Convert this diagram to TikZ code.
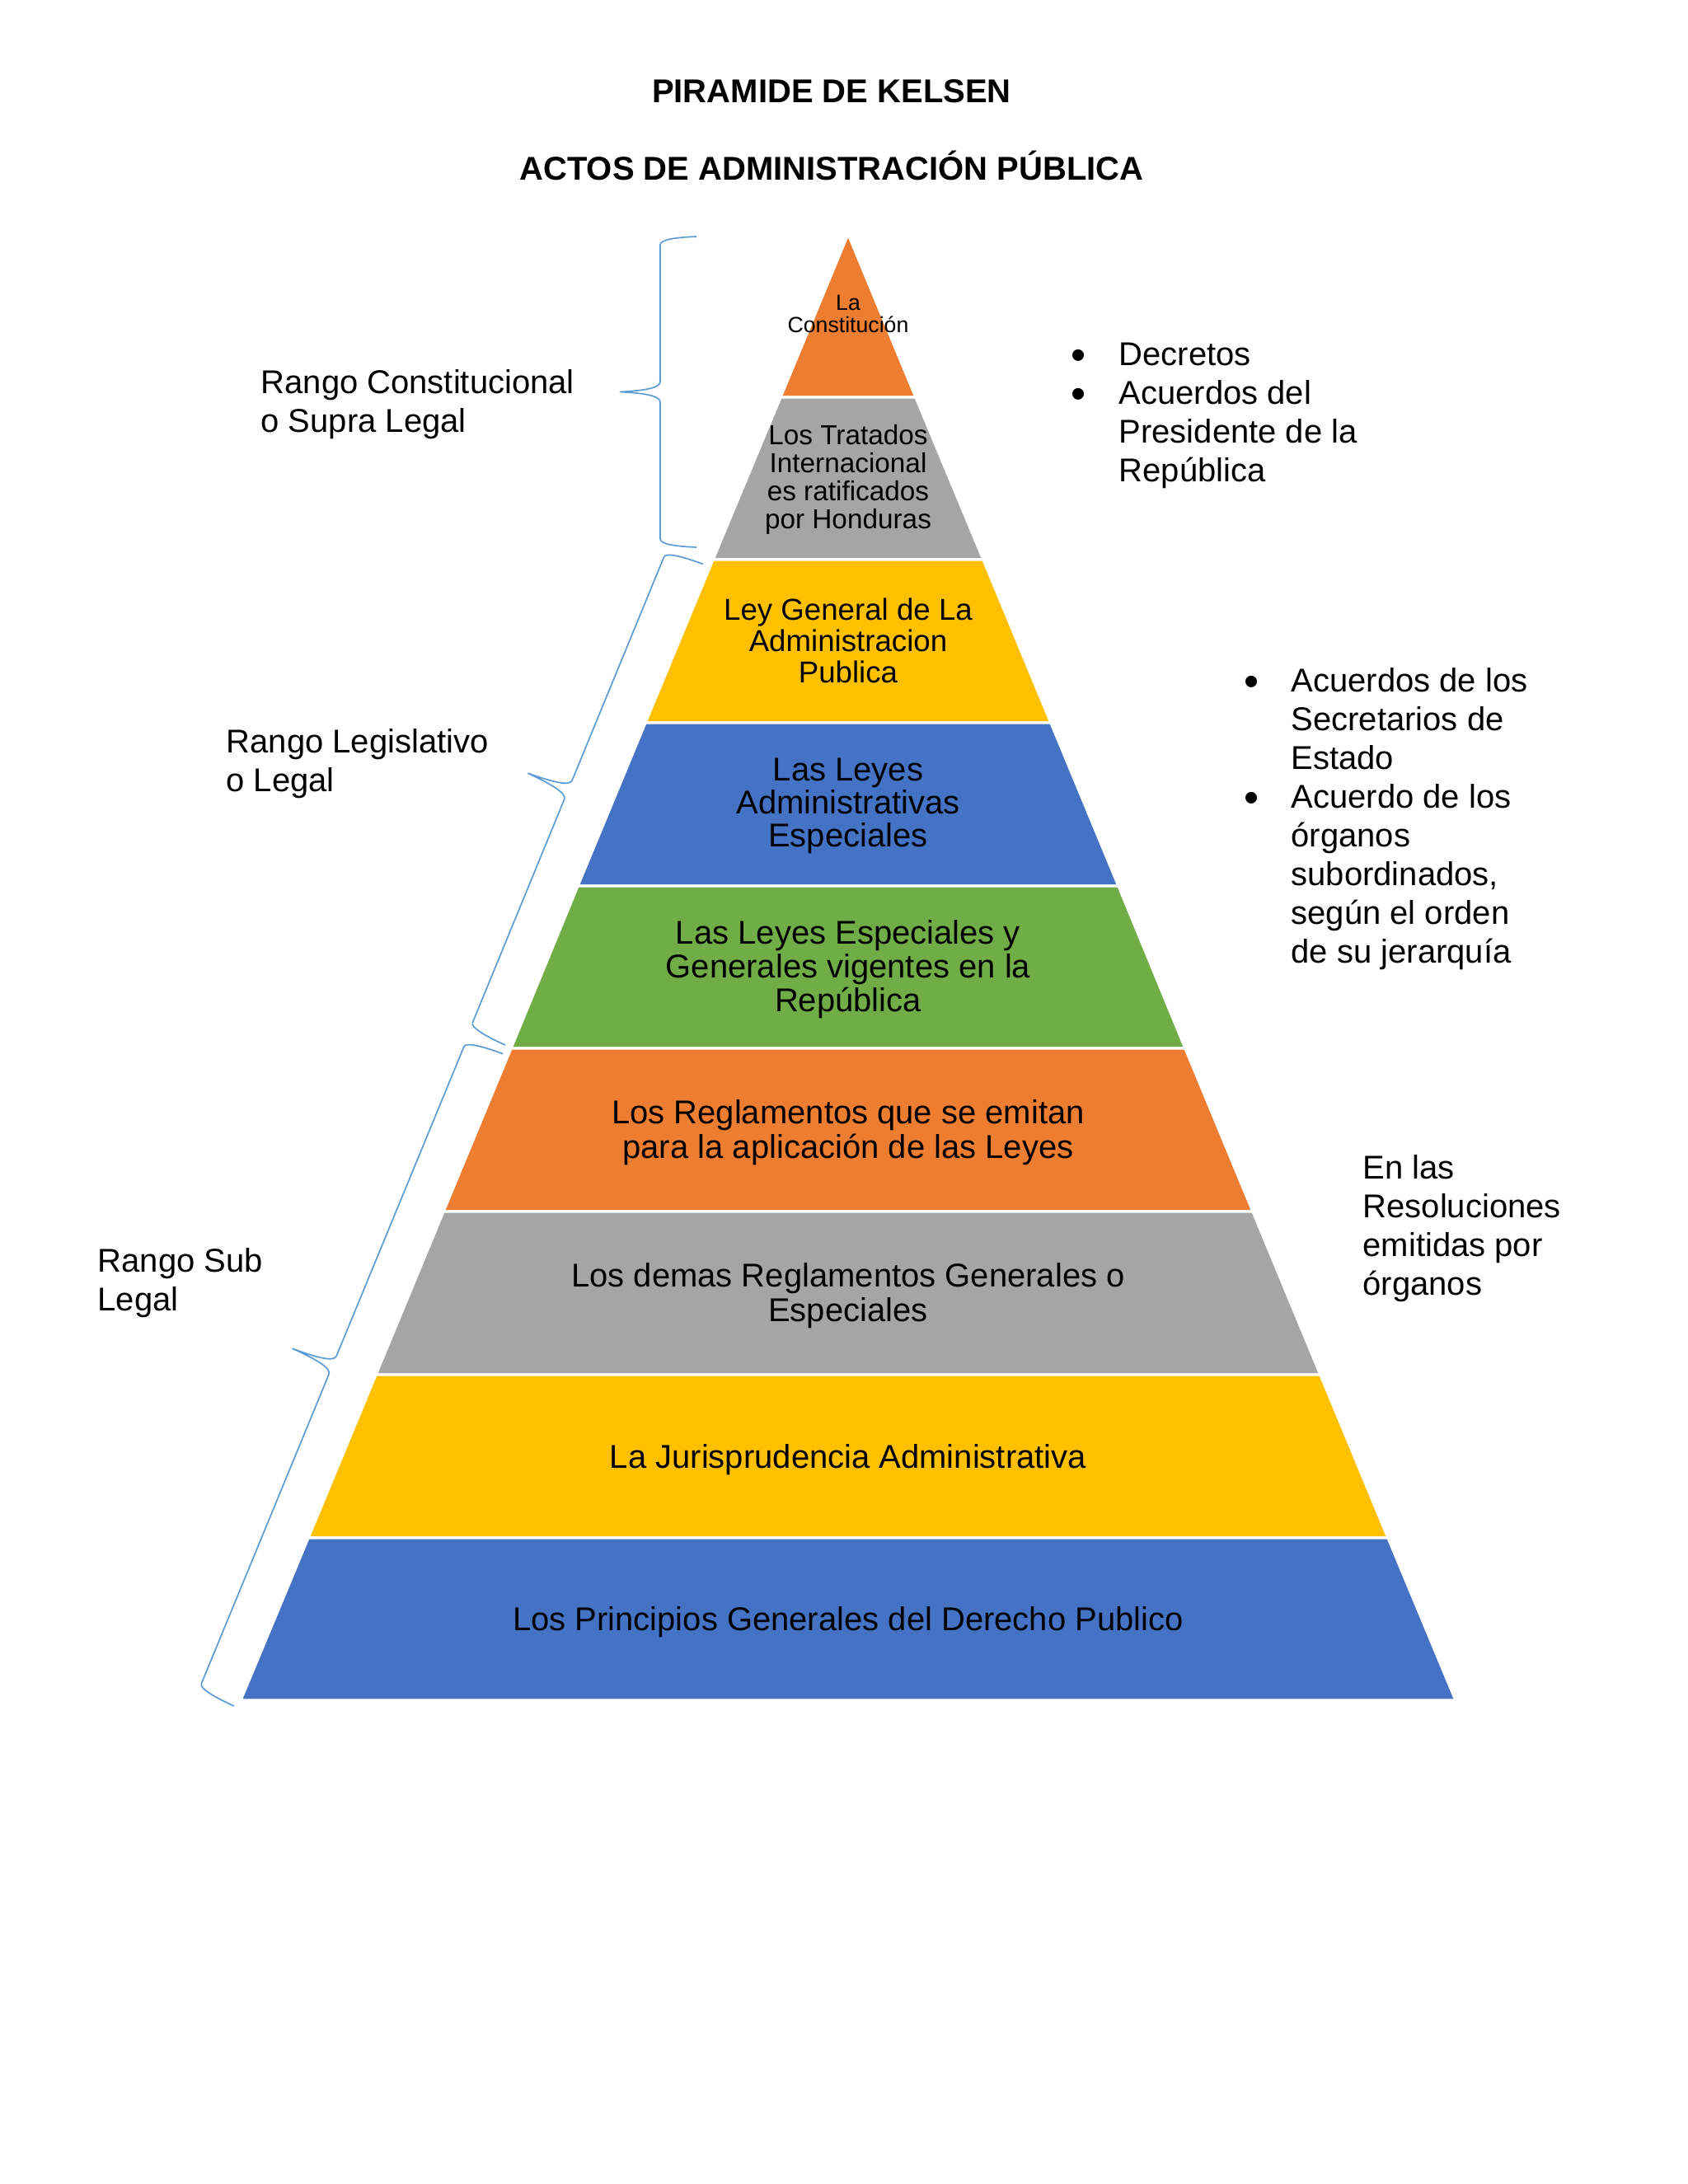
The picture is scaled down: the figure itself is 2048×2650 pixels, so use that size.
\documentclass[tikz,border=0pt]{standalone}
\usepackage{fontspec}
\setmainfont{Liberation Sans}
\usepackage{xcolor}
\usepackage{tikz}
\usetikzlibrary{positioning}

\definecolor{kOrange}{HTML}{ED7D31}
\definecolor{kGray}{HTML}{A5A5A5}
\definecolor{kGold}{HTML}{FFC000}
\definecolor{kBlue}{HTML}{4472C4}
\definecolor{kGreen}{HTML}{70AD47}
\definecolor{kBrace}{HTML}{5B9BD5}

\newcommand{\kbullet}{\raisebox{-1.3pt}{\fontsize{15.5}{14}\selectfont\textbullet}}

\begin{document}
\begin{tikzpicture}[x=0.010542cm, y=-0.010542cm,
    every node/.style={inner sep=0pt},
    layer/.style={draw=white, line width=1pt},
    layertext/.style={align=center},
    sidetext/.style={align=left, anchor=west, font=\fontsize{12}{14.1}\selectfont},
    rangebrace/.style={draw=kBrace, line width=0.5pt}]
  \useasboundingbox[fill=white] (0,0) rectangle (2048,2650);
  % titles
  \node[font=\bfseries\fontsize{12}{14}\selectfont] (title) at (1009,111) {PIRAMIDE DE KELSEN};
  \node[font=\bfseries\fontsize{12}{14}\selectfont] (subtitle) at (1009,201) {ACTOS DE ADMINISTRACIÓN PÚBLICA};
  % pyramid, top to bottom
  \filldraw[layer, fill=kOrange] (1029,284) -- (1111,482) -- (947,482) -- cycle;
  \filldraw[layer, fill=kGray] (947,482) -- (1111,482) -- (1193,679) -- (865,679) -- cycle;
  \filldraw[layer, fill=kGold] (865,679) -- (1193,679) -- (1275,877) -- (783,877) -- cycle;
  \filldraw[layer, fill=kBlue] (783,877) -- (1275,877) -- (1357,1075) -- (701,1075) -- cycle;
  \filldraw[layer, fill=kGreen] (701,1075) -- (1357,1075) -- (1438,1272) -- (620,1272) -- cycle;
  \filldraw[layer, fill=kOrange] (620,1272) -- (1438,1272) -- (1520,1470) -- (538,1470) -- cycle;
  \filldraw[layer, fill=kGray] (538,1470) -- (1520,1470) -- (1602,1668) -- (456,1668) -- cycle;
  \filldraw[layer, fill=kGold] (456,1668) -- (1602,1668) -- (1684,1866) -- (374,1866) -- cycle;
  \filldraw[layer, fill=kBlue] (374,1866) -- (1684,1866) -- (1766,2063) -- (292,2063) -- cycle;
  % layer texts
  \node[layertext, font=\fontsize{8}{8.1}\selectfont] (constitucion) at (1029,381) {La\\Constitución};
  \node[layertext, font=\fontsize{10}{10.25}\selectfont] (tratados) at (1029,582) {Los Tratados\\Internacional\\es ratificados\\por Honduras};
  \node[layertext, font=\fontsize{11}{11.4}\selectfont] (leygeneral) at (1029,777) {Ley General de La\\Administracion\\Publica};
  \node[layertext, font=\fontsize{12}{12.1}\selectfont] (leyesadmin) at (1029,978) {Las Leyes\\Administrativas\\Especiales};
  \node[layertext, font=\fontsize{12}{12.35}\selectfont] (leyesesp) at (1029,1176) {Las Leyes Especiales y\\Generales vigentes en la\\República};
  \node[layertext, font=\fontsize{12}{12.6}\selectfont] (reglamentos) at (1029,1374) {Los Reglamentos que se emitan\\para la aplicación de las Leyes};
  \node[layertext, font=\fontsize{12}{12.6}\selectfont] (demasregl) at (1029,1572) {Los demas Reglamentos Generales o\\Especiales};
  \node[layertext, font=\fontsize{12}{12.6}\selectfont] (jurisprudencia) at (1029,1771) {La Jurisprudencia Administrativa};
  \node[layertext, font=\fontsize{12}{12.6}\selectfont] (principios) at (1029,1968) {Los Principios Generales del Derecho Publico};
  % ranges on the left
  \node[sidetext] (rconst) at (316,491) {Rango Constitucional\\o Supra Legal};
  \node[sidetext] (rlegis) at (274,927) {Rango Legislativo\\o Legal};
  \node[sidetext] (rsub) at (118,1557) {Rango Sub\\Legal};
  % braces
  \coordinate (b1bot) at (845,664);
  \coordinate (b2bot) at (613,1268);
  \coordinate (b3bot) at (284,2070);
  \begin{scope}[shift={(b1bot)}, rotate=90, y=0.010542cm]
    \draw[rangebrace] (0,0) .. controls (1,26) and (4,44) .. (10,44) -- (176,44)
      .. controls (184,44) and (187,64) .. (188.5,93)
      .. controls (190,64) and (193,44) .. (201,44) -- (367,44)
      .. controls (373,44) and (376,26) .. (377,0);
  \end{scope}
  \begin{scope}[shift={(b2bot)}, rotate=67.66, y=0.010542cm]
    \draw[rangebrace] (0,0) .. controls (1,28) and (4,47) .. (10,47) -- (303,47)
      .. controls (311,47) and (314,68) .. (315.5,100)
      .. controls (317,68) and (320,47) .. (328,47) -- (621,47)
      .. controls (627,47) and (630,28) .. (631,0);
  \end{scope}
  \begin{scope}[shift={(b3bot)}, rotate=67.6, y=0.010542cm]
    \draw[rangebrace] (0,0) .. controls (1,28) and (4,47) .. (10,47) -- (416,47)
      .. controls (424,47) and (427,68) .. (428,100)
      .. controls (429,68) and (432,47) .. (440,47) -- (846,47)
      .. controls (852,47) and (855,28) .. (856,0);
  \end{scope}
  % acts on the right
  \node[sidetext] (actospres) at (1299,505) {\begin{tabular}{@{}p{17.4pt}@{}l@{}}
      \kbullet & Decretos\\
      \kbullet & Acuerdos del\\
      & Presidente de la\\
      & República
    \end{tabular}};
  \node[sidetext] (actossec) at (1509,995) {\begin{tabular}{@{}p{17.1pt}@{}l@{}}
      \kbullet & Acuerdos de los\\
      & Secretarios de\\
      & Estado\\
      \kbullet & Acuerdo de los\\
      & órganos\\
      & subordinados,\\
      & según el orden\\
      & de su jerarquía
    \end{tabular}};
  \node[sidetext] (resoluciones) at (1653,1491) {En las\\Resoluciones\\emitidas por\\órganos};
\end{tikzpicture}
\end{document}
